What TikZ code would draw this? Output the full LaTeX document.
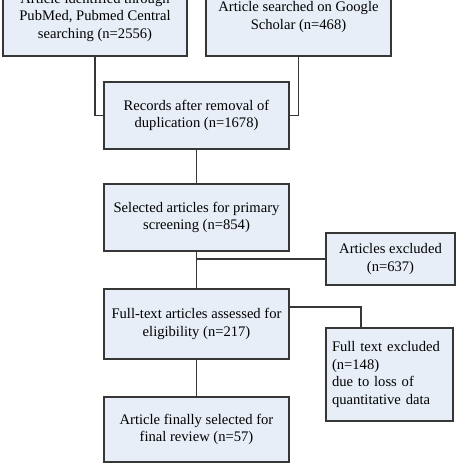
\documentclass[tikz,border=0pt]{standalone}
\usepackage{fontspec}
\setmainfont{Liberation Serif}
\usetikzlibrary{calc}
\definecolor{boxfill}{RGB}{232,238,248}
\definecolor{boxline}{RGB}{55,55,55}
\tikzset{
  flowbox/.style={draw=boxline, fill=boxfill, line width=1.8pt, inner sep=0pt,
    align=center, font=\fontsize{14.6}{17.5}\selectfont, anchor=center},
  conn/.style={draw=boxline, line width=1.8pt}
}
\begin{document}
\begin{tikzpicture}[x=1pt,y=-1pt]
\useasboundingbox (0,0) rectangle (474,474);
\fill[white] (0,0) rectangle (474,474);
\node[flowbox, minimum width=184pt, minimum height=78pt] (b1) at (95,17)
  {Article identified through\\PubMed, Pubmed Central\\searching (n=2556)};
\node[flowbox, minimum width=185pt, minimum height=78pt] (b2) at (298.5,17)
  {Article searched on Google\\Scholar (n=468)};
\node[flowbox, minimum width=185pt, minimum height=67pt] (b3) at (196.5,115.5)
  {Records after removal of\\duplication (n=1678)};
\node[flowbox, minimum width=185pt, minimum height=67pt] (b4) at (196.5,217.5)
  {Selected articles for primary\\screening (n=854)};
\node[flowbox, minimum width=129pt, minimum height=52pt] (b6) at (390.5,259)
  {Articles excluded\\(n=637)};
\node[flowbox, minimum width=185pt, minimum height=70pt] (b5) at (196.5,324)
  {Full-text articles assessed for\\eligibility (n=217)};
\node[flowbox, minimum width=127pt, minimum height=93pt, align=left,
  text width=115pt, inner xsep=6pt] (b7) at (389.5,374.5)
  {Full text excluded\\(n=148)\\due to loss of\\quantitative data};
\node[flowbox, minimum width=185pt, minimum height=65pt] (b8) at (196.5,429.5)
  {Article finally selected for\\final review (n=57)};
\coordinate (k1) at ($(b5.north east)+(0,19)$);
\coordinate (k2) at ($(b7.north west)+(36,0)$);
\draw[conn] (b1.south) |- (b3.west);
\draw[conn] (b2.south) |- (b3.east);
\draw[conn] (b3.south) -- (b4.north);
\draw[conn] (b4.south) -- (b5.north);
\draw[conn] (b6.west) -| (b4.south);
\draw[conn] (k1) -| (k2);
\draw[conn] (b5.south) -- (b8.north);
\end{tikzpicture}
\end{document}
